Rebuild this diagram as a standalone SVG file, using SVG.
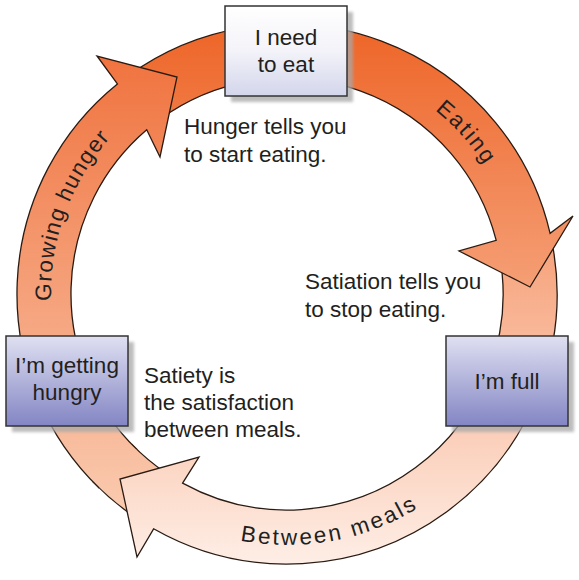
<svg xmlns="http://www.w3.org/2000/svg" width="579" height="580" viewBox="0 0 579 580">
<defs>
<linearGradient id="gEat" gradientUnits="userSpaceOnUse" x1="0" y1="40" x2="0" y2="290">
<stop offset="0" stop-color="#EE682C"/><stop offset="1" stop-color="#F59F76"/>
</linearGradient>
<linearGradient id="gBM" gradientUnits="userSpaceOnUse" x1="0" y1="230" x2="0" y2="565">
<stop offset="0" stop-color="#F69F76"/><stop offset="1" stop-color="#FEEEE6"/>
</linearGradient>
<linearGradient id="gGH" gradientUnits="userSpaceOnUse" x1="0" y1="520" x2="0" y2="60">
<stop offset="0" stop-color="#FACCB2"/><stop offset="1" stop-color="#F07440"/>
</linearGradient>
<linearGradient id="gTop" x1="0" y1="0" x2="0" y2="1">
<stop offset="0" stop-color="#FFFFFF"/><stop offset="0.5" stop-color="#F3F3F9"/><stop offset="1" stop-color="#D3D5EB"/>
</linearGradient>
<linearGradient id="gBox" x1="0" y1="0" x2="0" y2="1">
<stop offset="0" stop-color="#E0E0F2"/><stop offset="1" stop-color="#8285C3"/>
</linearGradient>
<filter id="blur" x="-10%" y="-10%" width="120%" height="120%"><feGaussianBlur stdDeviation="1.5"/></filter>
<path id="tpEat" d="M397.8,85.6 A236,236 0 0 1 505.8,205.6"/>
<path id="tpGH" d="M54.6,335.0 A236,236 0 0 1 135.3,113.2"/>
<path id="tpBM" d="M201.2,529.9 A251,251 0 0 0 451.7,483.4"/>
</defs>
<style>
.edge{fill:none;stroke:#2A1B12;stroke-width:1.3;stroke-linejoin:miter}
.lbl{font-family:"Liberation Sans",Arial,sans-serif;font-size:22.5px;fill:#231F20}
.txt{font-family:"Liberation Sans",Arial,sans-serif;font-size:22.5px;fill:#231F20}
.box{stroke:#333333;stroke-width:1.5}
.shadow{fill:#A8A8A8;opacity:0.75;filter:url(#blur)}
</style>
<rect width="579" height="580" fill="#FFFFFF"/>
<g id="connectors">
<path d="M136.0,517.8 A270,270 0 0 1 92.8,481.6 L131.6,444.1 A216,216 0 0 0 166.2,473.1 Z" fill="url(#gGH)"/>
<path class="edge" d="M136.0,517.8 A270,270 0 0 1 92.8,481.6 M166.2,473.1 A216,216 0 0 1 131.6,444.1"/>
<path id="arrow-between-meals" d="M551.1,237.9 A270,270 0 0 1 153.6,528.8 L137,557 L120,479 L199,457 L182.6,483.1 A216,216 0 0 0 498.3,249.1 Z" fill="url(#gBM)" stroke="#2A1B12" stroke-width="1.3"/>
<path id="arrow-eating" d="M128.3,75.6 A270,270 0 0 1 550.1,233.3 L573,216 L530,287 L459,251 L496.2,240.3 A216,216 0 0 0 160.0,119.3 Z" fill="url(#gEat)" stroke="#2A1B12" stroke-width="1.3"/>
<path id="arrow-growing-hunger" d="M99.4,488.2 A270,270 0 0 1 117.4,83.9 L97,56 L177,77 L160,157 L146.7,129.8 A216,216 0 0 0 136.9,449.4 Z" fill="url(#gGH)"/>
<path class="edge" d="M99.4,488.2 A270,270 0 0 1 117.4,83.9 L97,56 L177,77 L160,157 L146.7,129.8 A216,216 0 0 0 136.9,449.4"/>
<text class="lbl" letter-spacing="2"><textPath href="#tpEat" startOffset="50%" text-anchor="middle">Eating</textPath></text>
<text class="lbl" letter-spacing="1.3"><textPath href="#tpGH" startOffset="50%" text-anchor="middle">Growing hunger</textPath></text>
<text class="lbl" letter-spacing="2.5"><textPath href="#tpBM" startOffset="50%" text-anchor="middle">Between meals</textPath></text>
</g>
<g id="node-need">
<rect class="shadow" x="231" y="12" width="122" height="90"/>
<rect class="box" x="225" y="6" width="122" height="90" fill="url(#gTop)"/>
<text class="txt" x="286" y="45" text-anchor="middle">I need</text>
<text class="txt" x="286" y="72" text-anchor="middle">to eat</text>
</g>
<g id="node-full">
<rect class="shadow" x="452" y="342" width="122" height="90"/>
<rect class="box" x="446" y="336" width="122" height="90" fill="url(#gBox)"/>
<text class="txt" x="507" y="389" text-anchor="middle">I’m full</text>
</g>
<g id="node-hungry">
<rect class="shadow" x="12" y="342" width="122" height="90"/>
<rect class="box" x="6" y="336" width="122" height="90" fill="url(#gBox)"/>
<text class="txt" x="67" y="373" text-anchor="middle">I’m getting</text>
<text class="txt" x="67" y="400" text-anchor="middle">hungry</text>
</g>
<g id="notes">
<text class="txt" x="184" y="134">Hunger tells you</text>
<text class="txt" x="184" y="162">to start eating.</text>
<text class="txt" x="305" y="289">Satiation tells you</text>
<text class="txt" x="305" y="317">to stop eating.</text>
<text class="txt" x="144" y="383">Satiety is</text>
<text class="txt" x="144" y="410">the satisfaction</text>
<text class="txt" x="144" y="437">between meals.</text>
</g>
</svg>
